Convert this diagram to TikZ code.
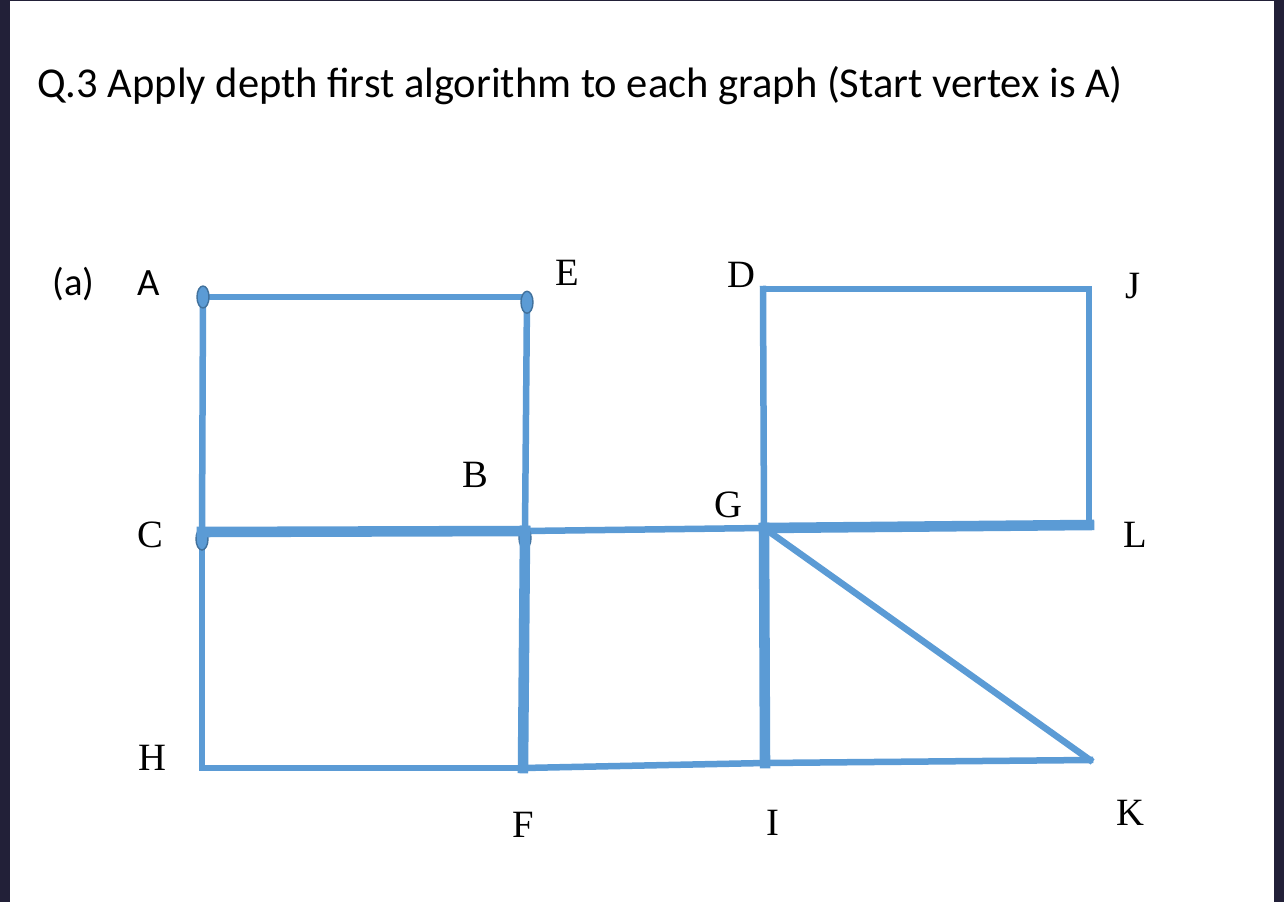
\documentclass[tikz,border=0pt]{standalone}
\usepackage{fontspec}
\setmainfont{Liberation Serif}
\newfontfamily\labelsans{Carlito}
\definecolor{myblue}{RGB}{91,155,213}
\definecolor{mydarkblue}{RGB}{65,113,156}
\definecolor{myframe}{RGB}{34,32,56}
\usetikzlibrary{positioning,shapes.geometric}

\begin{document}
\begin{tikzpicture}[x=0.02cm,y=-0.02cm,
  vlabel/.style={anchor=base,inner sep=0pt,font=\fontsize{22}{26}\selectfont},
  slabel/.style={anchor=base west,inner sep=0pt,font=\labelsans\fontsize{22}{26}\selectfont},
  thinedge/.style={myblue,line width=3.7pt,line cap=rect},
  thickedge/.style={myblue,line width=6pt,line cap=rect},
  vdot/.style={ellipse,fill=myblue,draw=mydarkblue,line width=0.8pt,
    minimum width=0.24cm,minimum height=0.44cm,inner sep=0pt}
  ]

  % page and dark frame
  \fill[white] (0,0) rectangle (1284,902);
  \useasboundingbox (0,0) rectangle (1284,902);
  \fill[myframe] (0,0) rectangle (10,902);
  \fill[myframe] (1274,0) rectangle (1284,902);
  \fill[myframe] (0,0) rectangle (1284,1.5);

  % the question
  \node[anchor=base west,inner sep=0pt,font=\labelsans\fontsize{24.2}{28}\selectfont]
    (title) at (37,98) {Q.3 Apply depth first algorithm to each graph (Start vertex is A)};

  % the vertices
  \coordinate (A) at (203,297);
  \coordinate (E) at (527,297);
  \coordinate (C) at (202,532);
  \coordinate (B) at (525,531);
  \coordinate (H) at (202,768);
  \coordinate (F) at (523,768);
  \coordinate (G) at (764,528);
  \coordinate (I) at (765,763);
  \coordinate (D) at (763,289);
  \coordinate (J) at (1089,289);
  \coordinate (L) at (1089,525);
  \coordinate (K) at (1090,760);

  % the labels
  \node[slabel] (parta) at (52,295) {(a)};
  \node[slabel] (labA) at (137,295) {A};
  \node[vlabel] (labE) at (567,285) {E};
  \node[vlabel] (labD) at (741,287) {D};
  \node[vlabel] (labJ) at (1133,298) {J};
  \node[vlabel] (labB) at (475,487) {B};
  \node[vlabel] (labG) at (728,517) {G};
  \node[vlabel] (labC) at (150,547) {C};
  \node[vlabel] (labL) at (1135,547) {L};
  \node[vlabel] (labH) at (152,770) {H};
  \node[vlabel] (labF) at (523,837) {F};
  \node[vlabel] (labI) at (773,835) {I};
  \node[vlabel] (labK) at (1130,825) {K};

  % the edges
  \draw[thinedge] (A) -- (C);
  \draw[thinedge] (E) -- (B);
  \draw[thinedge] (C) -- (H);
  \draw[thinedge] (H) -- (F);
  \draw[thinedge] (F) -- (I);
  \draw[thinedge] (I) -- (K);
  \draw[thinedge] (B) -- (G);
  \draw[thinedge] (G) -- (K);
  \draw[thinedge] (D) -- (J);
  \draw[thinedge] (J) -- (L);
  \draw[thinedge] (D) -- (G);
  \node[vdot] (dotC) at ([yshift=-4]C) {};
  \node[vdot] (dotB) at ([yshift=-4]B) {};
  \draw[thickedge] (C) -- (B);
  \draw[thickedge] (B) -- (F);
  \draw[thickedge] (G) -- (I);
  \draw[thickedge] (G) -- (L);
  \draw[thinedge] (A) -- (E);
  \node[vdot] (dotA) at (A) {};
  \node[vdot] (dotE) at ([yshift=-3]E) {};
\end{tikzpicture}
\end{document}
